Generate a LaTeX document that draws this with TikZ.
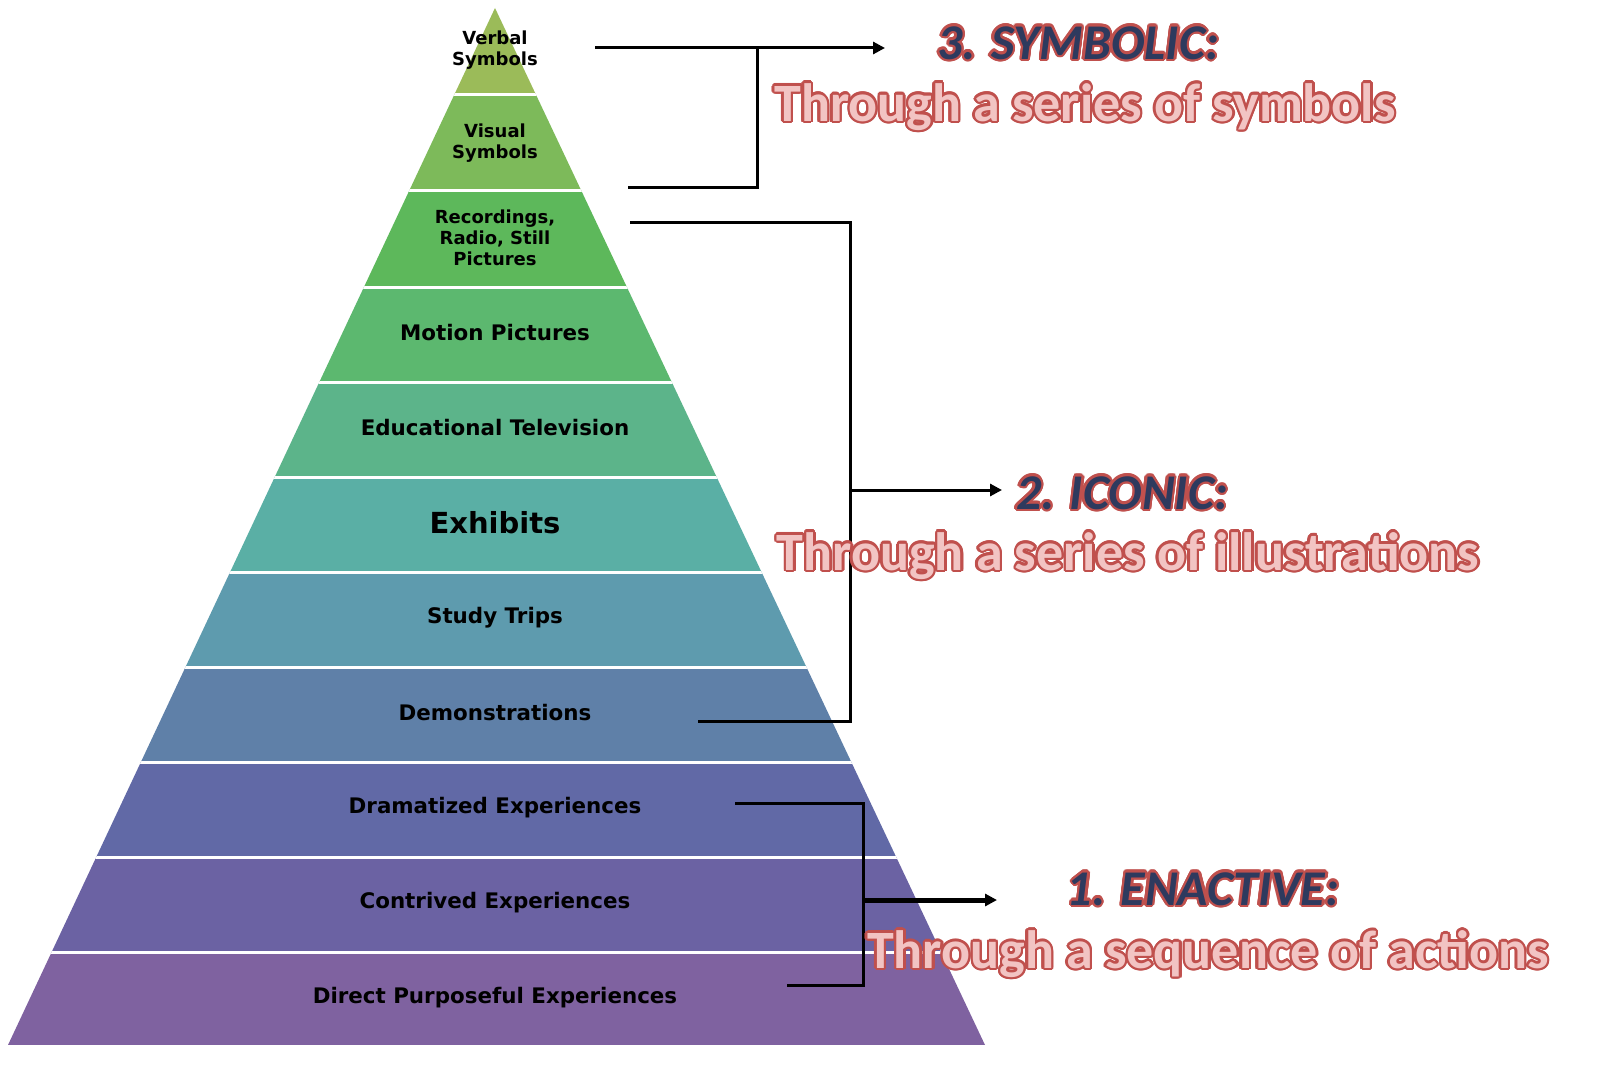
\documentclass[tikz,border=0pt]{standalone}
\usepackage{fontspec}
\setmainfont{DejaVu Sans}
\newfontfamily\carlitofam{Carlito}
\usepackage[copies]{contour}
\contourlength{1.2pt}
\usetikzlibrary{arrows.meta}
\definecolor{rd}{HTML}{C0504D}
\definecolor{pk}{HTML}{F2C4C3}
\definecolor{nv}{HTML}{2E3A5E}
\begin{document}
\begin{tikzpicture}[x=0.5pt,y=-0.5pt,
 lab/.style={font=\bfseries\fontsize{10.7}{12}\selectfont,align=center,inner sep=0},
 small/.style={font=\bfseries\fontsize{9}{10.5}\selectfont,align=center,inner sep=0},
 head/.style={font=\carlitofam\bfseries\itshape\fontsize{25}{28}\selectfont,inner sep=0},
 sub/.style={font=\carlitofam\bfseries\fontsize{27}{30}\selectfont,inner sep=0},
 con/.style={line width=1.5pt},
 arr/.style={line width=1.5pt,-{Triangle[length=6pt,width=6pt]}}]
\useasboundingbox (0,0) rectangle (1600,1070);
\fill[white] (0,0) rectangle (1600,1070);
\begin{scope}
\clip (495,8) -- (985,1045) -- (8,1045) -- cycle;
\foreach \a/\b/\c in {0/95/9BBB59,95/190/7DBA5A,190/287/5DB85B,287/382/5CB86F,382/477/5CB48A,477/572/5AAFA5,572/667/5E9BAE,667/762/5F80A8,762/857/6169A6,857/952/6B62A3,952/1045/7F62A0}{
 \definecolor{bc}{HTML}{\c}
 \fill[bc] (0,\a) rectangle (1000,\b);
}
\foreach \y in {95,190,287,382,477,572,667,762,857,952}{
 \draw[white,line width=1.5pt] (0,\y) -- (1000,\y);
}
\end{scope}
\node[small] (vs) at (495,50) {Verbal\\Symbols};
\node[small] (vis) at (495,143) {Visual\\Symbols};
\node[small] (rec) at (495,238) {Recordings,\\Radio, Still\\Pictures};
\node[lab] (mp) at (495,333) {Motion Pictures};
\node[lab] (et) at (495,428) {Educational Television};
\node[lab,font=\bfseries\fontsize{14.5}{17}\selectfont] (ex) at (495,523) {Exhibits};
\node[lab] (st) at (495,618) {Study Trips};
\node[lab] (dm) at (495,713) {Demonstrations};
\node[lab] (de) at (495,808) {Dramatized Experiences};
\node[lab] (ce) at (495,903) {Contrived Experiences};
\node[lab] (dp) at (495,998) {Direct Purposeful Experiences};
\coordinate (s1) at (595,48); \coordinate (s2) at (757,48); \coordinate (s3) at (885,48);
\coordinate (s4) at (757,187); \coordinate (s5) at (628,187);
\draw[con] (s1) -- (s2) -- (s4) -- (s5);
\draw[arr] (s2) -- (s3);
\coordinate (i1) at (630,222); \coordinate (i2) at (850,222); \coordinate (i3) at (850,721);
\coordinate (i4) at (698,721); \coordinate (i5) at (850,490); \coordinate (i6) at (1002,490);
\draw[con] (i1) -- (i2) -- (i3) -- (i4);
\draw[arr] (i5) -- (i6);
\coordinate (e1) at (735,803); \coordinate (e2) at (863,803); \coordinate (e3) at (863,985);
\coordinate (e4) at (787,985); \coordinate (e5) at (863,900); \coordinate (e6) at (997,900);
\draw[con] (e1) -- (e2) -- (e3) -- (e4);
\draw[arr,line width=2.5pt] (e5) -- (e6);
\node[head] (h3) at (1078,44) {\contour{rd}{\textcolor{nv}{3. SYMBOLIC:}}};
\node[sub] (t3) at (1085,108) {\contour{rd}{\textcolor{pk}{Through a series of symbols}}};
\node[head] (h2) at (1122,494) {\contour{rd}{\textcolor{nv}{2. ICONIC:}}};
\node[sub] (t2) at (1128,557) {\contour{rd}{\textcolor{pk}{Through a series of illustrations}}};
\node[head] (h1) at (1203,890) {\contour{rd}{\textcolor{nv}{1. ENACTIVE:}}};
\node[sub] (t1) at (1208,955) {\contour{rd}{\textcolor{pk}{Through a sequence of actions}}};
\end{tikzpicture}
\end{document}
